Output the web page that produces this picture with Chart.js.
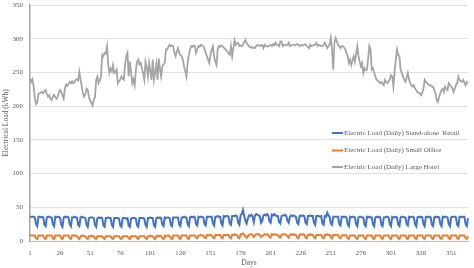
<!DOCTYPE html>
<html>
<head>
<meta charset="utf-8">
<script src="https://cdn.jsdelivr.net/npm/chart.js@4"></script>
<style>
html,body{margin:0;padding:0;background:#fff;}
canvas{display:block;}
</style>
</head>
<body>
<canvas id="c" width="474" height="268"></canvas>
<script>
// Day index categories
const days = Array.from({length: 365}, (_, i) => i + 1);
const xTickLabels = [1, 26, 51, 76, 101, 126, 151, 176, 201, 226, 251, 276, 301, 326, 351];
const seriesNames = [
  "Electric Load (Daily) Stand-alone  Retail",
  "Electric Load (Daily) Small Office",
  "Electric Load (Daily) Large Hotel"
];

const retail = [
  35,36,36,36,35,25,22, 36,36,35,36,35,24,22, 35,36,36,35,35,25,22, 36,35,36,36,34,24,21,
  35,36,35,36,35,25,22, 35,35,36,35,35,24,22, 35,36,35,35,34,24,21, 34,35,35,35,34,24,21,
  34,35,34,35,34,23,21, 34,34,35,34,34,24,21, 34,34,34,34,33,23,21, 34,34,34,33,34,23,21,
  33,34,34,34,33,23,21, 34,34,34,34,33,24,21, 34,34,35,34,34,23,21, 34,35,34,35,34,24,22,
  35,34,35,35,34,24,22, 35,35,35,35,35,24,22, 35,35,36,35,35,25,22, 35,36,35,36,35,25,23,
  36,35,36,36,35,25,23, 36,36,36,36,36,26,23, 36,36,37,36,36,26,23, 37,36,37,37,36,26,24,
  37,37,37,38,37,27,24, 38,40,46,37,30,26,33, 38,37,39,36,28,38,40, 39,38,37,27,30,38,39,
  38,40,38,29,27,39,38, 40,38,37,37,28,26,37, 38,38,39,37,30,27,36, 38,37,38,37,36,27,25,
  37,38,37,38,37,27,25, 37,37,38,37,37,27,24, 37,37,37,36,37,26,24, 37,36,42,38,36,26,24,
  36,36,36,36,36,25,23, 36,36,35,36,35,25,22, 36,35,36,36,35,25,22, 35,36,36,35,35,24,22,
  36,35,36,35,35,25,22, 35,36,35,36,35,24,22, 35,35,36,36,35,25,22, 36,35,35,36,35,24,22,
  35,36,36,35,35,25,23, 36,35,36,36,35,25,22, 35,36,35,36,35,25,22, 36,36,35,36,35,24,22,
  35,36,35,36,35,25,22, 36,35,36,36,35,25,22, 35,36,36,36,35,24,22, 36,36,35,36,36,25,22,
  34
];

const office = [
  8,8,8,8,8,4,3, 8,8,8,8,8,4,3, 8,8,8,8,8,4,3, 8,8,8,8,8,4,3,
  8,8,8,8,8,4,3, 8,8,8,8,7,4,3, 7,8,8,7,7,4,3, 7,7,8,7,7,4,3,
  7,7,7,7,7,4,3, 7,7,7,7,7,4,3, 7,7,7,7,7,4,3, 7,7,7,7,7,4,3,
  7,7,7,7,7,4,3, 7,7,7,7,7,4,3, 7,7,8,7,7,4,3, 7,8,7,8,7,4,3,
  8,7,8,8,7,4,3, 8,8,8,8,8,4,3, 8,8,8,8,8,4,3, 8,8,8,8,8,5,4,
  8,8,9,8,8,5,4, 9,8,9,9,8,5,4, 9,9,9,9,9,5,4, 9,9,9,9,9,5,4,
  9,9,10,9,9,5,4, 10,10,11,9,7,5,7, 9,10,10,9,6,9,10, 10,10,9,6,7,9,10,
  9,10,9,6,5,10,9, 10,10,9,9,6,5,9, 10,10,10,9,7,5,9, 10,9,10,9,9,5,4,
  9,10,9,10,9,5,4, 9,9,10,9,9,5,4, 9,9,9,9,9,5,4, 9,9,10,9,9,5,4,
  9,9,9,9,9,5,4, 8,9,8,9,8,4,3, 8,8,8,8,8,4,3, 8,8,8,8,8,4,3,
  8,8,8,8,8,4,3, 8,8,8,8,8,4,3, 8,8,8,8,8,4,3, 8,8,8,8,8,4,3,
  8,8,8,8,8,4,3, 8,8,8,8,8,4,3, 8,8,8,8,8,4,3, 8,8,8,8,8,4,3,
  8,8,8,8,8,4,3, 8,8,8,8,8,4,3, 8,8,8,8,8,4,3, 8,8,8,8,8,4,3,
  7
];

const hotel = [
  241,236,240,230,212,203,205,218,219,220,
  221,219,222,224,218,214,216,211,209,214,
  217,213,211,214,220,224,221,216,211,226,
  232,230,233,236,234,237,234,236,239,240,
  238,251,240,229,219,214,218,226,224,213,
  208,205,201,210,213,239,244,234,238,244,
  276,274,279,278,289,262,249,256,252,261,
  249,250,254,234,237,239,244,241,239,262,
  274,279,244,266,250,234,240,231,254,266,
  269,262,264,256,248,239,266,258,244,264,
  252,239,269,239,250,262,239,271,255,244,
  259,262,264,284,284,288,291,289,290,289,
  279,274,281,286,279,276,274,269,259,252,
  244,264,276,284,289,288,290,289,279,284,
  289,288,291,290,289,285,279,274,269,264,
  276,284,289,274,266,261,284,289,288,290,
  289,287,285,283,281,278,276,289,274,286,
  298,291,293,294,289,290,289,291,295,298,
  294,291,289,287,288,286,287,286,289,291,
  290,289,291,290,286,291,289,288,289,290,
  291,289,292,290,294,291,291,289,296,296,
  289,291,291,290,291,294,289,290,291,291,
  290,291,292,291,289,290,291,290,291,292,
  289,288,286,291,289,290,291,291,294,289,
  291,290,289,289,291,294,290,286,289,291,
  301,284,254,294,301,296,291,289,286,289,
  289,287,284,279,274,264,269,261,268,274,
  266,278,289,274,266,259,264,249,256,253,
  254,270,289,284,254,256,250,244,239,238,
  236,234,236,233,231,239,236,234,236,240,
  246,244,229,250,269,284,276,274,254,249,
  244,239,236,242,249,239,234,231,229,231,
  226,224,221,220,219,216,220,226,239,236,
  234,232,231,231,229,229,224,219,209,206,
  214,219,224,226,221,229,226,224,234,231,
  229,226,221,226,231,234,244,239,237,236,
  239,235,231,236,234
];

const colors = ["#4472c4", "#ed7d31", "#a5a5a5"];
const textColor = "#595959";
const fontFam = "'Liberation Serif', 'Times New Roman', serif";

const legendPlugin = {
  id: 'inlineLegend',
  afterDatasetsDraw(chart) {
    const ctx = chart.ctx;
    const rows = [133, 150.5, 167];
    ctx.save();
    ctx.font = "7px " + fontFam;
    ctx.textBaseline = 'middle';
    ctx.textAlign = 'left';
    chart.data.datasets.forEach((ds, i) => {
      const y = rows[i];
      ctx.strokeStyle = ds.borderColor;
      ctx.lineWidth = 2;
      ctx.beginPath();
      ctx.moveTo(332, y);
      ctx.lineTo(343, y);
      ctx.stroke();
      ctx.fillStyle = textColor;
      ctx.fillText(ds.label, 344, y);
    });
    ctx.restore();
  }
};

new Chart(document.getElementById('c'), {
  type: 'line',
  data: {
    labels: days,
    datasets: [
      {label: seriesNames[0], data: retail, borderColor: colors[0], borderWidth: 2, pointRadius: 0, tension: 0, fill: false},
      {label: seriesNames[1], data: office, borderColor: colors[1], borderWidth: 2, pointRadius: 0, tension: 0, fill: false},
      {label: seriesNames[2], data: hotel, borderColor: colors[2], borderWidth: 1.8, pointRadius: 0, tension: 0, fill: false}
    ]
  },
  options: {
    responsive: false,
    animation: false,
    layout: {padding: {top: 5, right: 6, left: 0, bottom: 0}},
    plugins: {legend: {display: false}, tooltip: {enabled: false}},
    scales: {
      x: {
        type: 'category',
        grid: {display: false},
        border: {color: '#bfbfbf', width: 1},
        ticks: {
          autoSkip: false, maxRotation: 0, minRotation: 0, padding: 0,
          color: textColor, font: {family: fontFam, size: 7},
          callback: function(v, i) { const l = days[i]; return xTickLabels.includes(l) ? String(l) : null; }
        },
        title: {display: true, text: 'Days', color: textColor, font: {family: fontFam, size: 7.5}, padding: {top: 0, bottom: 0}},
        afterFit: (s) => { s.height = 27; s.paddingLeft = 0; s.paddingRight = 0; }
      },
      y: {
        min: 0, max: 350,
        grid: {color: '#e0e0e0', lineWidth: 1, drawTicks: false},
        border: {color: '#a6a6a6', width: 1.5},
        ticks: {stepSize: 50, padding: 7, color: textColor, font: {family: fontFam, size: 7}},
        title: {display: true, text: 'Electrical Load (kWh)', color: textColor, font: {family: fontFam, size: 7.5}, padding: {top: 2, bottom: 0}},
        afterFit: (s) => { s.width = 30; s.paddingTop = 0; s.paddingBottom = 0; }
      }
    }
  },
  plugins: [legendPlugin]
});
</script>
</body>
</html>
